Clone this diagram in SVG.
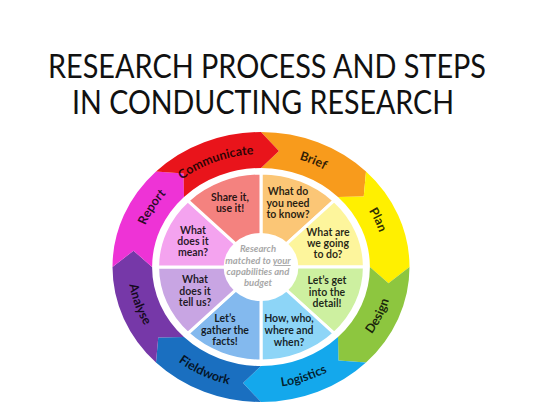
<svg xmlns="http://www.w3.org/2000/svg" width="560" height="420" viewBox="0 0 560 420">
<style>
.title{font-family:Lato,"Liberation Sans",sans-serif;font-size:32px;fill:#111;text-anchor:middle}
.rl{font-family:Lato,"Liberation Sans",sans-serif;font-size:12.5px;font-weight:bold;fill:#000;fill-opacity:.82}
.wl{font-family:Lato,"Liberation Sans",sans-serif;font-size:10.5px;font-weight:bold;fill:#000;fill-opacity:.85;text-anchor:middle}
.ct{font-family:Lato,"Liberation Sans",sans-serif;font-size:9.5px;font-weight:bold;font-style:italic;fill:#a8a8a8;text-anchor:middle}
.w{stroke:#fff;stroke-width:3;vector-effect:non-scaling-stroke;stroke-linejoin:round}
</style>
<defs>
<path id="pComm" d="M151.25,213.95 A124.3,113 0 0 1 299.41,159.53"/>
<path id="pBrief" d="M228.83,157.85 A124.3,113 0 0 1 373.65,219.25"/>
<path id="pPlan" d="M317.43,166.32 A124.3,113 0 0 1 379.87,300.04"/>
<path id="pReport" d="M138.59,286.62 A124.3,113 0 0 1 218.49,160.81"/>
<path id="pDesign" d="M319.35,375.75 A133.1,121 0 0 0 388.95,233.65"/>
<path id="pLog" d="M215.48,380.7 A133.1,121 0 0 0 376.27,327.5"/>
<path id="pField" d="M138.48,314.27 A133.1,121 0 0 0 290.95,384.9"/>
<path id="pAnal" d="M137.59,221.67 A133.1,121 0 0 0 190.47,369.61"/>
</defs>
<rect width="560" height="420" fill="#fff"/>
<g id="title">
<text class="title" x="267" y="78" textLength="438" lengthAdjust="spacingAndGlyphs">RESEARCH PROCESS AND STEPS</text>
<text class="title" x="263" y="114" textLength="382" lengthAdjust="spacingAndGlyphs">IN CONDUCTING RESEARCH</text>
</g>
<g transform="translate(261,267) scale(1.1,1)">
<g id="ring">
<g id="seg-brief"><path fill="#F89B1C" d="M0,-135 A135,135 0 0 1 95.46,-95.46 L93.4,-70.4 L70,-70 A99,99 0 0 0 0,-99 L16.3,-115.9 Z"/></g>
<g id="seg-plan"><path fill="#FFF000" d="M95.46,-95.46 A135,135 0 0 1 135,0 L115.9,16.3 L99,0 A99,99 0 0 0 70,-70 L93.4,-70.4 Z"/></g>
<g id="seg-design"><path fill="#8DC63F" d="M135,0 A135,135 0 0 1 95.46,95.46 L70.4,93.4 L70,70 A99,99 0 0 0 99,0 L115.9,16.3 Z"/></g>
<g id="seg-logistics"><path fill="#14A8EC" d="M95.46,95.46 A135,135 0 0 1 0,135 L-16.3,115.9 L0,99 A99,99 0 0 0 70,70 L70.4,93.4 Z"/></g>
<g id="seg-fieldwork"><path fill="#1A6FC0" d="M0,135 A135,135 0 0 1 -95.46,95.46 L-93.4,70.4 L-70,70 A99,99 0 0 0 0,99 L-16.3,115.9 Z"/></g>
<g id="seg-analyse"><path fill="#7638A8" d="M-95.46,95.46 A135,135 0 0 1 -135,0 L-115.9,-16.3 L-99,0 A99,99 0 0 0 -70,70 L-93.4,70.4 Z"/></g>
<g id="seg-report"><path fill="#EE33D6" d="M-135,0 A135,135 0 0 1 -95.46,-95.46 L-70.4,-93.4 L-70,-70 A99,99 0 0 0 -99,0 L-115.9,-16.3 Z"/></g>
<g id="seg-communicate"><path fill="#E9141B" d="M-95.46,-95.46 A135,135 0 0 1 0,-135 L16.3,-115.9 L0,-99 A99,99 0 0 0 -70,-70 L-70.4,-93.4 Z"/></g>
</g>
<g id="pie">
<g id="w-know"><path class="w" fill="#FBC676" d="M0,0 L0,-94 A94,94 0 0 1 66.47,-66.47 Z"/></g>
<g id="w-do"><path class="w" fill="#FDF59C" d="M0,0 L66.47,-66.47 A94,94 0 0 1 94,0 Z"/></g>
<g id="w-detail"><path class="w" fill="#CDF0A0" d="M0,0 L94,0 A94,94 0 0 1 66.47,66.47 Z"/></g>
<g id="w-how"><path class="w" fill="#8DD5F7" d="M0,0 L66.47,66.47 A94,94 0 0 1 0,94 Z"/></g>
<g id="w-facts"><path class="w" fill="#83B9EE" d="M0,0 L0,94 A94,94 0 0 1 -66.47,66.47 Z"/></g>
<g id="w-tell"><path class="w" fill="#C8A5E3" d="M0,0 L-66.47,66.47 A94,94 0 0 1 -94,0 Z"/></g>
<g id="w-mean"><path class="w" fill="#F4A3EF" d="M0,0 L-94,0 A94,94 0 0 1 -66.47,-66.47 Z"/></g>
<g id="w-share"><path class="w" fill="#F4827F" d="M0,0 L-66.47,-66.47 A94,94 0 0 1 0,-94 Z"/></g>
</g>
<g id="center"><circle r="34" fill="#fff"/></g>
</g>
<g id="ring-labels">
<text class="rl"><textPath href="#pComm" startOffset="50%" text-anchor="middle">Communicate</textPath></text>
<text class="rl"><textPath href="#pBrief" startOffset="50%" text-anchor="middle">Brief</textPath></text>
<text class="rl"><textPath href="#pPlan" startOffset="50%" text-anchor="middle">Plan</textPath></text>
<text class="rl"><textPath href="#pReport" startOffset="50%" text-anchor="middle">Report</textPath></text>
<text class="rl"><textPath href="#pDesign" startOffset="50%" text-anchor="middle">Design</textPath></text>
<text class="rl"><textPath href="#pLog" startOffset="50%" text-anchor="middle">Logistics</textPath></text>
<text class="rl"><textPath href="#pField" startOffset="50%" text-anchor="middle">Fieldwork</textPath></text>
<text class="rl"><textPath href="#pAnal" startOffset="50%" text-anchor="middle">Analyse</textPath></text>
</g>
<g id="wedge-labels">
<text class="wl" x="230" y="201">Share it,<tspan x="230" dy="11">use it!</tspan></text>
<text class="wl" x="288" y="195">What do<tspan x="288" dy="11.5">you need</tspan><tspan x="288" dy="11.5">to know?</tspan></text>
<text class="wl" x="328" y="236">What are<tspan x="328" dy="11">we going</tspan><tspan x="328" dy="11">to do?</tspan></text>
<text class="wl" x="327" y="284">Let’s get<tspan x="327" dy="11.5">into the</tspan><tspan x="327" dy="11.5">detail!</tspan></text>
<text class="wl" x="289" y="322">How, who,<tspan x="289" dy="12">where and</tspan><tspan x="289" dy="12">when?</tspan></text>
<text class="wl" x="225" y="322">Let’s<tspan x="225" dy="11.5">gather the</tspan><tspan x="225" dy="11.5">facts!</tspan></text>
<text class="wl" x="195" y="283">What<tspan x="195" dy="11.5">does it</tspan><tspan x="195" dy="11.5">tell us?</tspan></text>
<text class="wl" x="193" y="234">What<tspan x="193" dy="11">does it</tspan><tspan x="193" dy="11">mean?</tspan></text>
</g>
<g id="center-label">
<text class="ct" x="258" y="252">Research<tspan x="258" dy="12">matched to <tspan text-decoration="underline">your</tspan></tspan><tspan x="258" dy="11">capabilities and</tspan><tspan x="258" dy="11">budget</tspan></text>
</g>
</svg>
